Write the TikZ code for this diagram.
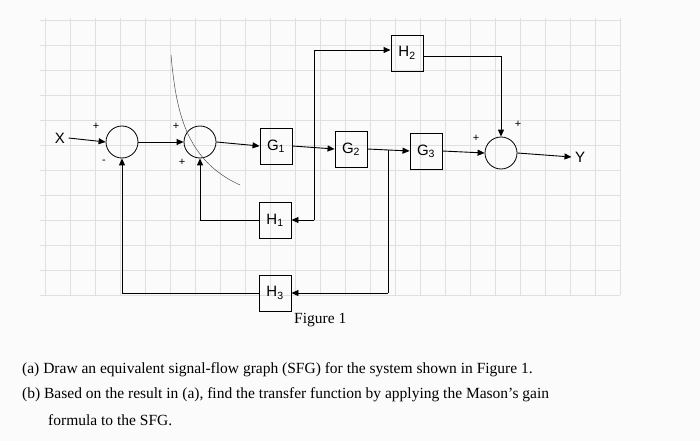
\documentclass[tikz,border=0pt]{standalone}
\usepackage{fontspec}
\setmainfont{Liberation Serif}
\newfontfamily\blkfont{Liberation Sans}
\usetikzlibrary{arrows.meta}
\begin{document}
\begin{tikzpicture}[x=1pt,y=-1pt,
  blk/.style={draw,line width=0.9pt,minimum width=32pt,minimum height=36pt,inner sep=0pt,font=\blkfont\fontsize{15}{15}\selectfont},
  sumj/.style={draw,circle,line width=0.8pt,minimum size=32pt,inner sep=0pt},
  sig/.style={line width=0.9pt,-{Triangle[length=7pt,width=6pt]}},
  ln/.style={line width=0.9pt},
  sgn/.style={font=\blkfont\fontsize{11}{11}\selectfont,inner sep=0pt},
  txt/.style={font=\fontsize{15.5}{18}\selectfont,anchor=west,inner sep=0pt}]
\useasboundingbox (0,0) rectangle (700,441);
\fill[white!97!gray] (0,0) rectangle (700,441);
\foreach \x in {45,70,...,620} \draw[black!12,line width=0.4pt] (\x,18) -- (\x,295);
\foreach \y in {20,45,...,295} \draw[black!12,line width=0.4pt] (40,\y) -- (620,\y);
\node[font=\blkfont\fontsize{15}{15}\selectfont] (X) at (60,138) {X};
\node[font=\blkfont\fontsize{15}{15}\selectfont] (Y) at (580,157) {Y};
\node[sumj] (s1) at (122,142) {};
\node[sumj] (s2) at (200,142) {};
\node[sumj] (s3) at (501,153) {};
\node[blk] (G1) at (276,146) {G\textsubscript{1}};
\node[blk] (G2) at (351,149) {G\textsubscript{2}};
\node[blk] (G3) at (426,151) {G\textsubscript{3}};
\node[blk] (H2) at (407,53) {H\textsubscript{2}};
\node[blk] (H1) at (275,220) {H\textsubscript{1}};
\node[blk] (H3) at (275,293) {H\textsubscript{3}};
\coordinate (t1) at (314,147);
\coordinate (t2) at (388,150);
\draw[sig] (X.east) -- (s1.west);
\draw[sig] (s1.east) -- (s2.west);
\draw[sig] (s2.east) -- (G1.west);
\draw[sig] (G1.east) -- (G2.west);
\draw[sig] (G2.east) -- (G3.west);
\draw[sig] (G3.east) -- (s3.west);
\draw[sig] (s3.east) -- (Y.west);
\draw[sig] (t1|-H1) -- (H1.east);
\draw[ln] (t1|-H1) -- (314,50);
\draw[sig] (314,50) -- (H2.west|-0,50);
\draw[sig] (H2.east|-0,56) -| (s3.north);
\draw[ln] (t2) -- (t2|-H3);
\draw[sig] (t2|-H3) -- (H3.east);
\draw[sig] (H1.west) -| (s2.south);
\draw[sig] (H3.west) -| (s1.south);
\node[sgn] at (96,126) {+};
\node[sgn] at (104,162) {-};
\node[sgn] at (176,126) {+};
\node[sgn] at (182,162) {+};
\node[sgn] at (476,138) {+};
\node[sgn] at (518,124) {+};
\draw[black!70,line width=0.5pt] (171,55) .. controls (176,110) and (185,160) .. (240,185);
\node[txt] (fig) at (294,320) {Figure 1};
\node[txt] (a) at (22,370) {(a) Draw an equivalent signal-flow graph (SFG) for the system shown in Figure 1.};
\node[txt] (b) at (22,395) {(b) Based on the result in (a), find the transfer function by applying the Mason’s gain};
\node[txt] (c) at (48,420) {formula to the SFG.};
\end{tikzpicture}
\end{document}
